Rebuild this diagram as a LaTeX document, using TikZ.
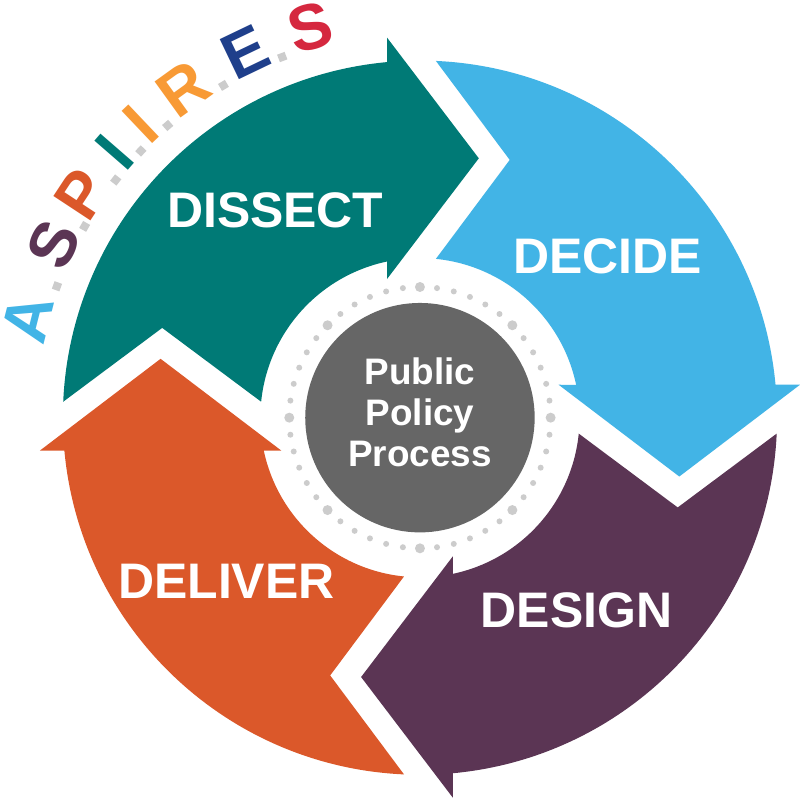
\documentclass[tikz,border=0pt]{standalone}
\usepackage{fontspec}
\setmainfont{Liberation Sans}
\usepackage{xcolor}

\definecolor{dissectteal}{HTML}{007A76}
\definecolor{decideblue}{HTML}{42B4E6}
\definecolor{designplum}{HTML}{5B3554}
\definecolor{deliverorange}{HTML}{DB582A}
\definecolor{hubgray}{HTML}{666666}
\definecolor{dotgray}{HTML}{CCCCCC}
\definecolor{aspyellow}{HTML}{F89A35}
\definecolor{aspnavy}{HTML}{1F3F8B}
\definecolor{aspred}{HTML}{D5283F}

\tikzset{
    steplabel/.style={text=white, inner sep=0pt, font=\bfseries\fontsize{35.6}{40}\selectfont},
    hubdisc/.style={circle, fill=hubgray, minimum size=57.5mm, inner sep=0pt},
    hubtext/.style={text=white, align=center, inner sep=0pt, font=\bfseries\fontsize{26.3}{29.2}\selectfont},
    aspletter/.style={inner sep=0pt, font=\bfseries\fontsize{46}{50}\selectfont},
    aspdot/.style={fill=dotgray, minimum size=2mm, inner sep=0pt}
}

\begin{document}
\begin{tikzpicture}[x=0.25mm, y=0.25mm]
    % white canvas
    \fill[white] (-421,-380) rectangle (379,414);

    % the four arrows, one quarter turn apart
    \foreach \ang/\col in {0/dissectteal, -90/decideblue, -180/designplum, -270/deliverorange} {
        \fill[\col, rotate=\ang] (177.44:358) -- (-258.4,90) -- (174.26:160)
            arc[start angle=174.26, end angle=101.9, radius=160]
            -- (-33,139) -- (59,260) -- (-33,381) -- (95.29:358)
            arc[start angle=95.29, end angle=177.44, radius=358] -- cycle;
    }
    \node[steplabel] (dissect) at (-145,208) {DISSECT};
    \node[steplabel] (decide) at (188,162) {DECIDE};
    \node[steplabel] (design) at (157,-193) {DESIGN};
    \node[steplabel] (deliver) at (-194,-164) {DELIVER};

    % dotted ring and hub
    \foreach \a in {0,45,...,315} {
        \fill[dotgray] (\a:131) circle (5);
        \foreach \k in {1,...,5}
            \fill[dotgray] (\a+7.5*\k:131) circle (3);
    }
    \node[hubdisc] (hub) at (0,0) {};
    \node[hubtext] (process) at (0,5) {Public\\Policy\\Process};

    % A.S.P.I.I.R.E.S along the rim
    \foreach \ch/\ang/\col [count=\i] in {A/165.8/decideblue, S/154.7/designplum, P/146.6/deliverorange,
        I/139/dissectteal, I/133.5/aspyellow, R/125.8/aspyellow, E/115.6/aspnavy, S/105.7/aspred}
        \node[aspletter, text=\col, rotate=\ang-90] (letter\i) at (\ang:406) {\ch};
    \foreach \ang [count=\i] in {160.1,150.3,142,136.3,130.8,120.6,110.9}
        \node[aspdot, rotate=\ang-90] (dot\i) at (\ang:387) {};
\end{tikzpicture}
\end{document}
